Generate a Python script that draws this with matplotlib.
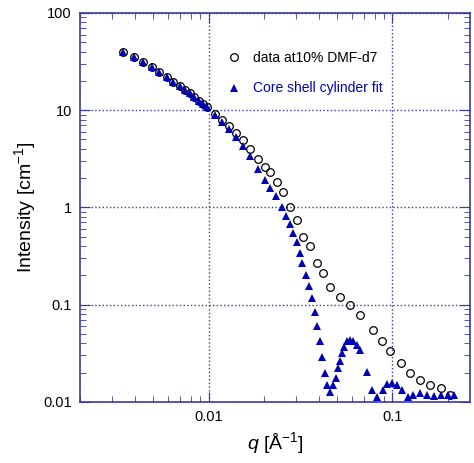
import matplotlib
matplotlib.use("Agg")
import matplotlib.pyplot as plt

plt.rcParams["font.family"] = ["Liberation Sans", "DejaVu Sans"]
plt.rcParams["mathtext.fontset"] = "custom"
plt.rcParams["mathtext.rm"] = "Liberation Sans"
plt.rcParams["mathtext.it"] = "Liberation Sans:italic"

# measured data (circles)
q_data = [0.00344, 0.00394, 0.00442, 0.00494, 0.00540, 0.00597, 0.00644, 0.00695, 0.00740,
          0.00788, 0.00838, 0.00882, 0.00928, 0.00976, 0.0108, 0.0118, 0.0129, 0.0141, 0.0153,
          0.0168, 0.0185, 0.0202, 0.0215, 0.0235, 0.0254, 0.0277, 0.0303, 0.0327, 0.0357,
          0.0389, 0.0420, 0.0459, 0.0520, 0.0589, 0.0668, 0.0787, 0.0882, 0.0975, 0.111,
          0.125, 0.142, 0.161, 0.183, 0.207]
i_data = [39.6, 35.2, 31.3, 27.8, 24.6, 21.9, 19.5, 17.7, 16.1,
          15.0, 13.6, 12.4, 11.5, 10.7, 9.1, 7.9, 6.8, 5.8, 4.9,
          3.96, 3.13, 2.58, 2.30, 1.81, 1.43, 1.02, 0.75, 0.50, 0.40,
          0.27, 0.214, 0.153, 0.121, 0.100, 0.079, 0.055, 0.042, 0.033, 0.025,
          0.020, 0.0169, 0.0150, 0.0139, 0.0118]

# core shell cylinder fit (triangles)
q_fit = [0.00344, 0.00394, 0.00442, 0.00494, 0.00540, 0.00597, 0.00644, 0.00695, 0.00740,
         0.00788, 0.00838, 0.00882, 0.00928, 0.00976, 0.0108, 0.0118, 0.0129, 0.0141, 0.0153,
         0.0168, 0.0185, 0.0202, 0.0215, 0.0232, 0.0251, 0.0264, 0.0277, 0.0288, 0.0303,
         0.0314, 0.0322, 0.0339, 0.0352, 0.0366, 0.0380, 0.0389, 0.0405, 0.0414, 0.0431,
         0.0442, 0.0459, 0.0476, 0.0495, 0.0507, 0.0520, 0.0533, 0.0547, 0.0568, 0.0589,
         0.0612, 0.0644, 0.0668, 0.0730, 0.0778, 0.0828, 0.0893, 0.0940, 0.100, 0.106,
         0.113, 0.121, 0.130, 0.142, 0.155, 0.168, 0.183, 0.200, 0.215]
i_fit = [39.6, 35.2, 31.3, 27.8, 24.6, 21.9, 19.5, 17.7, 16.1,
         15.0, 13.6, 12.4, 11.5, 10.7, 8.9, 7.5, 6.4, 5.3, 4.3,
         3.36, 2.47, 1.90, 1.57, 1.30, 1.02, 0.81, 0.67, 0.55, 0.44,
         0.34, 0.27, 0.204, 0.157, 0.118, 0.085, 0.061, 0.042, 0.029, 0.0199,
         0.0150, 0.0127, 0.0150, 0.0177, 0.0224, 0.0265, 0.032, 0.0369, 0.042, 0.0435,
         0.042, 0.0387, 0.0344, 0.0204, 0.0133, 0.0113, 0.0133, 0.0153, 0.0157, 0.0150,
         0.0133, 0.0113, 0.0118, 0.0124, 0.0118, 0.0115, 0.0118, 0.0118, 0.0118]

navy = "#3a3aa0"
blue = "#0000b4"

fig = plt.figure(figsize=(4.74, 4.63), dpi=100)
ax = fig.add_axes([0.169, 0.132, 0.823, 0.840])

ax.plot(q_data, i_data, "o", mfc="none", mec="black", ms=5.5, mew=0.9,
        label="data at10% DMF-d7")
ax.plot(q_fit, i_fit, "^", color=blue, ms=5.5, mew=0, label="Core shell cylinder fit")

ax.set_xscale("log")
ax.set_yscale("log")
ax.set_xlim(0.002, 0.265)
ax.set_ylim(0.01, 100)
ax.set_xticks([0.01, 0.1])
ax.set_xticklabels(["0.01", "0.1"])
ax.set_yticks([0.01, 0.1, 1, 10, 100])
ax.set_yticklabels(["0.01", "0.1", "1", "10", "100"])

ax.grid(True, which="major", color=navy, linestyle=":", linewidth=1)
for s in ax.spines.values():
    s.set_color(navy)
    s.set_linewidth(1.2)
ax.tick_params(which="both", direction="in", top=True, right=True, color=navy,
               labelsize=10.5, labelcolor="black", pad=6)
ax.tick_params(which="major", length=7)
ax.tick_params(which="minor", length=4)

ax.set_xlabel(r"$q$ [Å$^{-1}$]", fontsize=14)
ax.set_ylabel(r"Intensity [cm$^{-1}$]", fontsize=14)

leg = ax.legend(loc="upper left", frameon=False, fontsize=10, handletextpad=0.8,
                bbox_to_anchor=(0.34, 0.935), labelspacing=1.2, handlelength=1.2)
leg.get_texts()[1].set_color(blue)

fig.savefig("out.png", dpi=100)
